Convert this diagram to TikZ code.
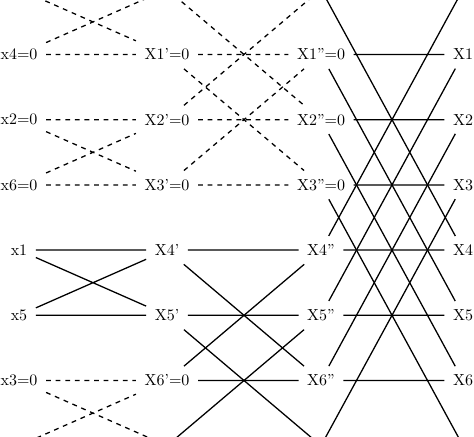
\documentclass[tikz,border=0pt]{standalone}
\begin{document}
\begin{tikzpicture}[x=0.625pt,y=-0.625pt,line width=0.8pt,
  lbl/.style={inner sep=5pt}]
\useasboundingbox (0,0) rectangle (474,436);
\clip (0,0) rectangle (474,436);
\foreach \C/\X in {a/19,b/167,c/321,d/463}
{\coordinate (\C0) at (\X,-10.7);
 \coordinate (\C7) at (\X,445.7);}
\foreach \L [count=\i] in {x4=0,x2=0,x6=0,x1,x5,x3=0}
 \node[lbl] (a\i) at (19,{-10.7+65.2*\i}) {\L};
\foreach \L [count=\i] in {X1'=0,X2'=0,X3'=0,X4',X5',X6'=0}
 \node[lbl] (b\i) at (167,{-10.7+65.2*\i}) {\L};
\foreach \L [count=\i] in {X1''=0,X2''=0,X3''=0,X4'',X5'',X6''}
 \node[lbl] (c\i) at (321,{-10.7+65.2*\i}) {\L};
\foreach \i in {1,...,6}
 \node[lbl] (d\i) at (463,{-10.7+65.2*\i}) {X\i};
\foreach \U/\V/\P/\Q/\S in {a/b/0/1/dashed,a/b/2/3/dashed,a/b/4/5/solid,a/b/6/7/dashed,
  b/c/0/2/dashed,b/c/1/3/dashed,b/c/4/6/solid,b/c/5/7/solid,
  c/d/0/4/solid,c/d/1/5/solid,c/d/2/6/solid,c/d/3/7/solid}
 \draw[\S] (\U\P) -- (\V\P) (\U\Q) -- (\V\Q) (\U\P) -- (\V\Q) (\U\Q) -- (\V\P);
\end{tikzpicture}
\end{document}
